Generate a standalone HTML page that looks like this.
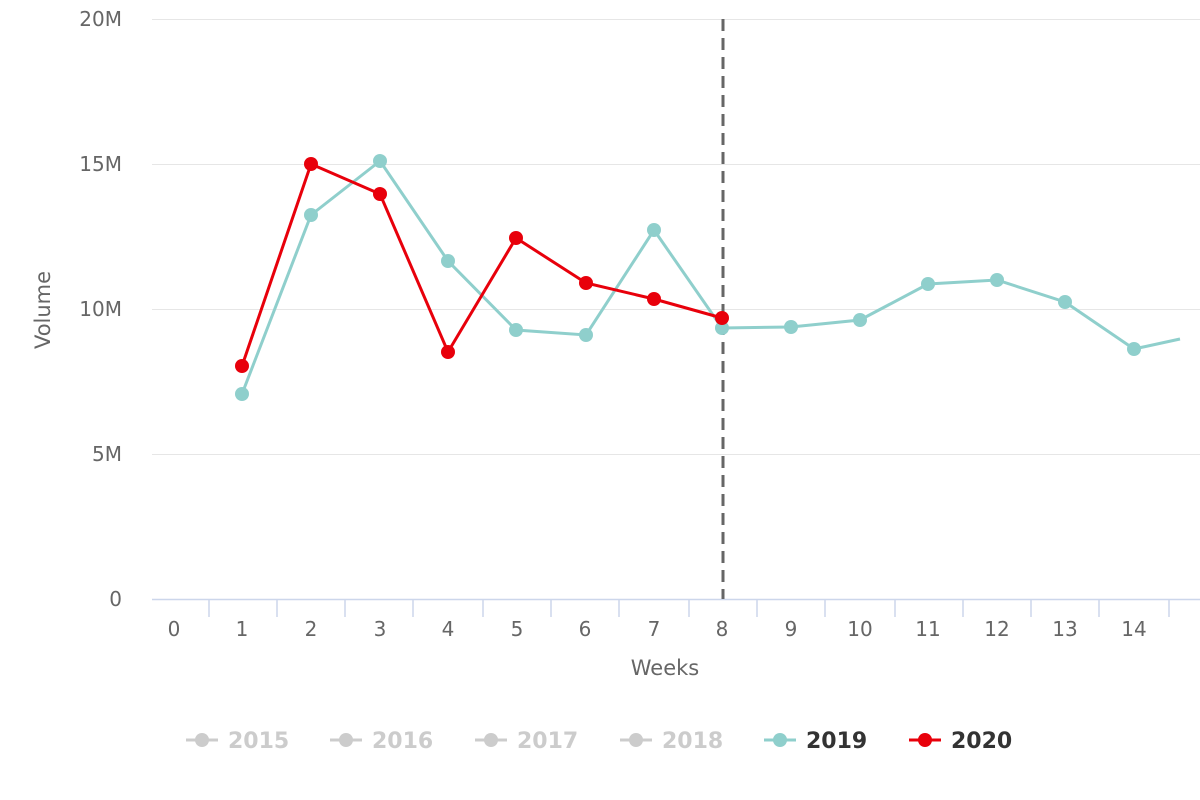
<!DOCTYPE html>
<html><head><meta charset="utf-8"><style>body{margin:0;background:#fff}svg{display:block;font-family:"DejaVu Sans","Liberation Sans",sans-serif}</style></head><body>
<svg width="1200" height="800" viewBox="0 0 1200 800">
<g stroke="#e6e6e6" stroke-width="1">
<line x1="152" y1="19.5" x2="1200" y2="19.5"/><line x1="152" y1="164.5" x2="1200" y2="164.5"/><line x1="152" y1="309.5" x2="1200" y2="309.5"/><line x1="152" y1="454.5" x2="1200" y2="454.5"/>
</g>
<line x1="152" y1="599.5" x2="1200" y2="599.5" stroke="#ccd6eb" stroke-width="1.5"/>
<g stroke="#ccd6eb" stroke-width="1.5">
<line x1="209" y1="599" x2="209" y2="617"/><line x1="277" y1="599" x2="277" y2="617"/><line x1="345" y1="599" x2="345" y2="617"/><line x1="413" y1="599" x2="413" y2="617"/><line x1="483" y1="599" x2="483" y2="617"/><line x1="551" y1="599" x2="551" y2="617"/><line x1="619" y1="599" x2="619" y2="617"/><line x1="689" y1="599" x2="689" y2="617"/><line x1="757" y1="599" x2="757" y2="617"/><line x1="825" y1="599" x2="825" y2="617"/><line x1="895" y1="599" x2="895" y2="617"/><line x1="963" y1="599" x2="963" y2="617"/><line x1="1031" y1="599" x2="1031" y2="617"/><line x1="1099" y1="599" x2="1099" y2="617"/><line x1="1169" y1="599" x2="1169" y2="617"/>
</g>
<g fill="#666" font-size="20" text-anchor="end">
<text x="122" y="26">20M</text><text x="122" y="171">15M</text><text x="122" y="316">10M</text><text x="122" y="461">5M</text><text x="122" y="606">0</text>
</g>
<text transform="translate(50,310) rotate(-90)" fill="#666" font-size="21" text-anchor="middle">Volume</text>
<g fill="#666" font-size="20" text-anchor="middle">
<text x="174" y="636">0</text><text x="242" y="636">1</text><text x="311" y="636">2</text><text x="380" y="636">3</text><text x="448" y="636">4</text><text x="517" y="636">5</text><text x="585" y="636">6</text><text x="654" y="636">7</text><text x="722" y="636">8</text><text x="791" y="636">9</text><text x="860" y="636">10</text><text x="928" y="636">11</text><text x="997" y="636">12</text><text x="1065" y="636">13</text><text x="1134" y="636">14</text>
</g>
<text x="665" y="675" fill="#666" font-size="21" text-anchor="middle">Weeks</text>
<line x1="723" y1="19" x2="723" y2="599" stroke="#666" stroke-width="3" stroke-dasharray="12,7"/>
<polyline fill="none" stroke="#8fcfcc" stroke-width="3" points="242,394 311,215 380,161 448,261 516,330 586,335 654,230 722,328 791,327 860,320 928,284 997,280 1065,302 1134,349 1180,339"/>
<g fill="#8fcfcc"><circle cx="242" cy="394" r="7"/><circle cx="311" cy="215" r="7"/><circle cx="380" cy="161" r="7"/><circle cx="448" cy="261" r="7"/><circle cx="516" cy="330" r="7"/><circle cx="586" cy="335" r="7"/><circle cx="654" cy="230" r="7"/><circle cx="722" cy="328" r="7"/><circle cx="791" cy="327" r="7"/><circle cx="860" cy="320" r="7"/><circle cx="928" cy="284" r="7"/><circle cx="997" cy="280" r="7"/><circle cx="1065" cy="302" r="7"/><circle cx="1134" cy="349" r="7"/></g>
<polyline fill="none" stroke="#e8000b" stroke-width="3" points="242,366 311,164 380,194 448,352 516,238 586,283 654,299 722,318"/>
<g fill="#e8000b"><circle cx="242" cy="366" r="7"/><circle cx="311" cy="164" r="7"/><circle cx="380" cy="194" r="7"/><circle cx="448" cy="352" r="7"/><circle cx="516" cy="238" r="7"/><circle cx="586" cy="283" r="7"/><circle cx="654" cy="299" r="7"/><circle cx="722" cy="318" r="7"/></g>
<g font-size="22" font-weight="bold">
<g stroke="#ccc" stroke-width="3"><line x1="186" y1="740" x2="218" y2="740"/><line x1="330" y1="740" x2="362" y2="740"/><line x1="475" y1="740" x2="507" y2="740"/><line x1="620" y1="740" x2="652" y2="740"/></g>
<g fill="#ccc"><circle cx="202" cy="740" r="7"/><circle cx="346" cy="740" r="7"/><circle cx="491" cy="740" r="7"/><circle cx="636" cy="740" r="7"/>
<text x="228" y="748">2015</text><text x="372" y="748">2016</text><text x="517" y="748">2017</text><text x="662" y="748">2018</text></g>
<line x1="764" y1="740" x2="796" y2="740" stroke="#8fcfcc" stroke-width="3"/><circle cx="780" cy="740" r="7" fill="#8fcfcc"/>
<text x="806" y="748" fill="#333">2019</text>
<line x1="909" y1="740" x2="941" y2="740" stroke="#e8000b" stroke-width="3"/><circle cx="925" cy="740" r="7" fill="#e8000b"/>
<text x="951" y="748" fill="#333">2020</text>
</g>
</svg>
</body></html>
